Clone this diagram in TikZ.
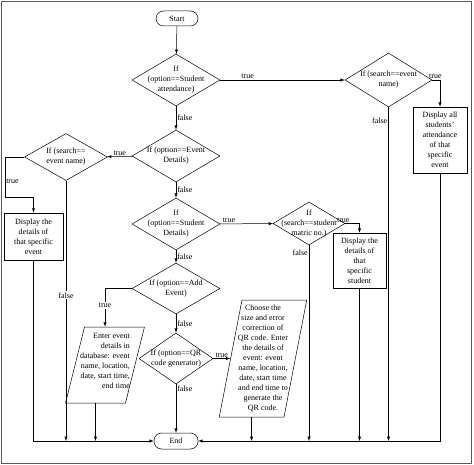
\documentclass[tikz,border=0pt]{standalone}
\usepackage{fontspec}
\setmainfont{Liberation Serif}
\usetikzlibrary{shapes.geometric, arrows}

\tikzset{
  every node/.style={font=\fontsize{8}{10}\selectfont},
  every path/.style={line width=0.5pt},
  terminal/.style={draw, rounded corners=7.5pt, minimum width=44pt, minimum height=16pt, inner sep=0pt},
  decision/.style={diamond, draw, inner sep=0pt},
  process/.style={rectangle, draw, align=center, inner sep=1pt},
  io/.style={trapezium, draw, inner sep=0pt, text depth=0pt},
  inside/.style={align=center, inner sep=0pt},
  cond/.style={inner sep=1pt},
  line/.style={draw, -latex},
}

\begin{document}
\begin{tikzpicture}[x=1pt, y=-1pt]
\useasboundingbox (0,0) rectangle (474,465);
\draw[gray!70!black, line width=1.5pt] (1.5,1.5) rectangle (471.5,463.5);

% main column
\node[terminal, minimum width=42pt, minimum height=15pt] (start) at (177,18.5) {Start};
\node[decision, minimum width=88pt, minimum height=52pt, label={[inside]center:{If\\(option==Student\\attendance)}}] (attend) at (176,80) {};
\node[decision, minimum width=88pt, minimum height=52pt, label={[inside]center:{If (option==Event\\Details)}}] (evdet) at (176,156) {};
\node[decision, minimum width=88pt, minimum height=52pt, label={[inside]center:{If\\(option==Student\\Details)}}] (studet) at (176,224) {};
\node[decision, minimum width=88pt, minimum height=51pt, label={[inside]center:{If (option==Add\\Event)}}] (addev) at (176,288.5) {};
\node[decision, minimum width=74pt, minimum height=51pt, label={[inside]center:{If (option==QR\\code generator)}}] (qrgen) at (176,358.5) {};
\node[terminal] (end) at (176,441) {End};

% branches
\node[decision, minimum width=87pt, minimum height=54pt, label={[inside]center:{If (search==event\\name)}}] (searchR) at (388.5,80) {};
\node[process, minimum width=54pt, minimum height=66pt] (dispAll) at (440,140) {Display all\\students'\\attendance\\of that\\specific\\event};
\node[decision, minimum width=83pt, minimum height=47pt, label={[inside]center:{If (search==\\event name)}}] (searchL) at (66,157) {};
\node[process, minimum width=59pt, minimum height=47pt] (dispEvent) at (33.5,236.5) {Display the\\details of\\that specific\\event};
\node[decision, minimum width=72pt, minimum height=43pt, label={[inside]center:{If\\(search==student\\matric no.)}}] (searchS) at (309,223.5) {};
\node[process, minimum width=53pt, minimum height=55pt] (dispStu) at (359.5,260.5) {Display the\\details of\\that\\specific\\student};
\node[io, trapezium left angle=76, trapezium right angle=104, text width=41pt, text height=76pt,
  label={[inside, align=right, yshift=4pt]center:{Enter event\\details in\\database: event\\name, location,\\date, start time,\\end time}}] (enter) at (105,365) {};
\node[io, trapezium left angle=79, trapezium right angle=101, text width=42pt, text height=117pt,
  label={[inside]center:{Choose the\\size and error\\correction of\\QR code. Enter\\the details of\\event: event\\name, location,\\date, start time\\and end time to\\generate the\\QR code.}}] (qr) at (263,358.5) {};

\coordinate (kneeL) at (5,197);

% connectors
\draw[line] (start) -- (attend);
\draw[line] (attend) -- node[cond, right]{false} (evdet);
\draw[line] (attend) -- node[cond, above, pos=0.22]{true} (searchR);
\draw[line] (searchR.east) -| node[cond, above, pos=0.2]{true} (dispAll.north);
\draw[line] (searchR.south) -- node[cond, left, pos=0.04]{false} (searchR.south |- end.east);
\draw[line] (dispAll.south) |- (end.east);
\draw[line] (evdet) -- node[cond, above]{true} (searchL);
\draw[line] (evdet) -- node[cond, right]{false} (studet);
\draw[line] (searchL.west) -| node[cond, right, pos=0.8]{true} (kneeL) -| (dispEvent.north);
\draw[line] (searchL.south) -- node[cond, fill=white, pos=0.44]{false} (searchL.south |- end.west);
\draw[line] (dispEvent.south) |- (end.west);
\draw[line] (studet) -- node[cond, above, pos=0.17]{true} (searchS);
\draw[line] (studet) -- node[cond, right]{false} (addev);
\draw[line] (searchS.east) -| node[cond, above, pos=0, xshift=-2pt]{true} (dispStu.north);
\draw[line] (searchS.south) -- node[cond, left, pos=0.04]{false} (searchS.south |- end.east);
\draw[line] (dispStu.south) -- (dispStu.south |- end.east);
\draw[line] (addev.west) -| node[cond, fill=white, pos=0.72]{true} (enter.north);
\draw[line] (addev) -- node[cond, right]{false} (qrgen);
\draw[line] (enter.bottom side) -- (enter.bottom side |- end.west);
\draw[line] (qrgen.east) -- node[cond, above]{true} (qr.left side);
\draw[line] (qrgen) -- node[cond, right, pos=0.1]{false} (end);
\draw[line] (qr.bottom side) -- (qr.bottom side |- end.east);
\end{tikzpicture}
\end{document}
